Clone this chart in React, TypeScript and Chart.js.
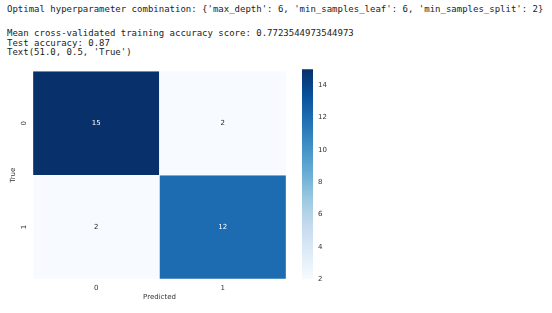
import React, { useEffect, useRef } from 'react';
import { Chart, registerables } from 'chart.js';

Chart.register(...registerables);

const OUTPUT_LINES = [
  "Optimal hyperparameter combination: {'max_depth': 6, 'min_samples_leaf': 6, 'min_samples_split': 2}",
  "Mean cross-validated training accuracy score: 0.7723544973544973",
  "Test accuracy: 0.87",
  "Text(51.0, 0.5, 'True')",
];

const PRED_LABELS = ['0', '1'];
const TRUE_LABELS = ['0', '1'];
const CONFUSION_ROW_0 = [15, 2];
const CONFUSION_ROW_1 = [2, 12];
const COLORBAR_TICKS = [2, 4, 6, 8, 10, 12, 14];
const X_TITLE = 'Predicted';
const Y_TITLE = 'True';

const BLUES = ['#f7fbff', '#deebf7', '#c6dbef', '#9ecae1', '#6baed6', '#4292c6', '#2171b5', '#08519c', '#08306b'];

const ROWS = [CONFUSION_ROW_0, CONFUSION_ROW_1];
const ALL = ROWS.flat();
const VMIN = Math.min(...ALL);
const VMAX = Math.max(...ALL);

function hexToRgb(h: string) {
  return [parseInt(h.slice(1, 3), 16), parseInt(h.slice(3, 5), 16), parseInt(h.slice(5, 7), 16)];
}
function blues(v: number) {
  const t = Math.max(0, Math.min(1, (v - VMIN) / (VMAX - VMIN)));
  const p = t * (BLUES.length - 1);
  const i = Math.min(BLUES.length - 2, Math.floor(p));
  const f = p - i;
  const a = hexToRgb(BLUES[i]);
  const b = hexToRgb(BLUES[i + 1]);
  return a.map((x, k) => Math.round(x + (b[k] - x) * f));
}
function rgbStr(c: number[]) {
  return `rgb(${c[0]},${c[1]},${c[2]})`;
}
function textColorFor(c: number[]) {
  const lin = c.map((x) => {
    const s = x / 255;
    return s <= 0.03928 ? s / 12.92 : Math.pow((s + 0.055) / 1.055, 2.4);
  });
  const lum = 0.2126 * lin[0] + 0.7152 * lin[1] + 0.0722 * lin[2];
  return lum > 0.408 ? '#262626' : '#ffffff';
}

const SANS = "'DejaVu Sans', sans-serif";
const LINE_TOPS = [4.4, 28.2, 37.5, 46.5];

export default function App() {
  const mainRef = useRef<HTMLCanvasElement>(null);
  const barRef = useRef<HTMLCanvasElement>(null);

  useEffect(() => {
    const cellLabels = {
      id: 'cellLabels',
      afterDatasetsDraw(chart: any) {
        const ctx = chart.ctx;
        ctx.save();
        ctx.font = `7px ${SANS}`;
        ctx.textAlign = 'center';
        ctx.textBaseline = 'middle';
        chart.data.datasets.forEach((ds: any, r: number) => {
          const meta = chart.getDatasetMeta(r);
          meta.data.forEach((el: any, c: number) => {
            const v = ROWS[r][c];
            ctx.fillStyle = textColorFor(blues(v));
            ctx.fillText(String(v), el.x, (el.y + el.base) / 2);
          });
        });
        ctx.restore();
      },
    };

    const main = new Chart(mainRef.current!, {
      type: 'bar',
      data: {
        labels: PRED_LABELS,
        datasets: ROWS.map((row, r) => ({
          label: TRUE_LABELS[r],
          data: row.map(() => [r, r + 1]) as any,
          backgroundColor: row.map((v) => rgbStr(blues(v))),
          borderColor: '#ffffff',
          borderWidth: 0.5,
          borderSkipped: false,
          grouped: false,
          barPercentage: 1,
          categoryPercentage: 1,
        })),
      },
      options: {
        animation: false,
        responsive: false,
        devicePixelRatio: 1,
        events: [],
        layout: { padding: { top: 7, right: 14, left: 0, bottom: 0 } },
        plugins: { legend: { display: false }, tooltip: { enabled: false } },
        scales: {
          x: {
            type: 'category',
            grid: { display: false, drawTicks: false },
            border: { display: false },
            ticks: { font: { size: 7, family: SANS }, color: '#333333', padding: 5, maxRotation: 0 },
            title: { display: true, text: X_TITLE, font: { size: 7, family: SANS }, color: '#333333', padding: { top: 0, bottom: 11.8 } },
            afterFit(scale: any) { scale.height = 34; },
          },
          y: {
            type: 'linear',
            min: 0,
            max: TRUE_LABELS.length,
            reverse: true,
            grid: { display: false, drawTicks: false },
            border: { display: false },
            afterBuildTicks(scale: any) {
              scale.ticks = TRUE_LABELS.map((_, i) => ({ value: i + 0.5 }));
            },
            ticks: {
              font: { size: 7, family: SANS },
              color: '#333333',
              padding: 7,
              minRotation: 90,
              maxRotation: 90,
              crossAlign: 'center',
              callback: (_v: any, i: number) => TRUE_LABELS[i],
            },
            title: { display: true, text: Y_TITLE, font: { size: 7, family: SANS }, color: '#333333', padding: { top: 8.8, bottom: 0 } },
            afterFit(scale: any) { scale.width = 33; },
          },
        },
      },
      plugins: [cellLabels],
    } as any);

    const bar = new Chart(barRef.current!, {
      type: 'bar',
      data: {
        labels: [''],
        datasets: [
          {
            data: [[VMIN, VMAX]] as any,
            backgroundColor: (c: any) => {
              const area = c.chart.chartArea;
              if (!area) return BLUES[4];
              const g = c.chart.ctx.createLinearGradient(0, area.bottom, 0, area.top);
              BLUES.forEach((col, i) => g.addColorStop(i / (BLUES.length - 1), col));
              return g;
            },
            borderWidth: 0,
            barPercentage: 1,
            categoryPercentage: 1,
          },
        ],
      },
      options: {
        animation: false,
        responsive: false,
        devicePixelRatio: 1,
        events: [],
        layout: { padding: { top: 8, right: 0, left: 12, bottom: 34 } },
        plugins: { legend: { display: false }, tooltip: { enabled: false } },
        scales: {
          x: { display: false },
          y: {
            type: 'linear',
            position: 'right',
            min: VMIN,
            max: VMAX,
            grid: { display: false, drawTicks: false },
            border: { display: false },
            afterBuildTicks(scale: any) {
              scale.ticks = COLORBAR_TICKS.map((v) => ({ value: v }));
            },
            ticks: { font: { size: 7, family: SANS }, color: '#333333', padding: 5 },
            afterFit(scale: any) { scale.width = 37; },
          },
        },
      },
    } as any);

    return () => {
      main.destroy();
      bar.destroy();
    };
  }, []);

  return (
    <div style={{ position: 'fixed', left: 0, top: 0, width: 552, height: 313, background: '#ffffff', overflow: 'hidden' }}>
      {OUTPUT_LINES.map((line, i) => (
        <div
          key={i}
          style={{
            position: 'absolute',
            left: 7,
            top: LINE_TOPS[i],
            fontFamily: "'DejaVu Sans Mono', monospace",
            fontSize: 9,
            lineHeight: '10px',
            color: '#222222',
            whiteSpace: 'pre',
          }}
        >
          {line}
        </div>
      ))}
      <canvas ref={mainRef} width={300} height={253} style={{ position: 'absolute', left: 0, top: 60, width: 300, height: 253 }} />
      <canvas ref={barRef} width={60} height={253} style={{ position: 'absolute', left: 290, top: 60, width: 60, height: 253 }} />
    </div>
  );
}
